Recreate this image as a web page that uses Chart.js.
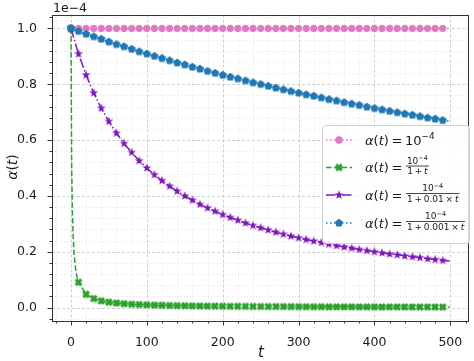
<!DOCTYPE html>
<html>
<head>
<meta charset="utf-8">
<script src="https://cdn.jsdelivr.net/npm/chart.js@4.4.0/dist/chart.umd.min.js"></script>
<style>
html, body { margin: 0; padding: 0; background: #fff; }
canvas { display: block; }
</style>
</head>
<body>
<canvas id="chart" width="474" height="361"></canvas>
<script>
// Learning rate schedules, values in units of 1e-4
const tValues = [0, 10, 20, 30, 40, 50, 60, 70, 80, 90, 100, 110, 120, 130, 140, 150, 160, 170, 180, 190,
    200, 210, 220, 230, 240, 250, 260, 270, 280, 290, 300, 310, 320, 330, 340, 350, 360, 370, 380, 390,
    400, 410, 420, 430, 440, 450, 460, 470, 480, 490, 499];

const constValues = [1, 1, 1, 1, 1, 1, 1, 1, 1, 1, 1, 1, 1, 1, 1, 1, 1, 1, 1, 1, 1, 1, 1, 1, 1,
    1, 1, 1, 1, 1, 1, 1, 1, 1, 1, 1, 1, 1, 1, 1, 1, 1, 1, 1, 1, 1, 1, 1, 1, 1, 1];

// the 1/(1+t) curve drops fast, so it keeps a few early samples
const greenT = [0, 1, 2, 3, 4, 5, 6, 7, 8, 9, 10, 20, 30, 40, 50, 60, 70, 80, 90, 100, 110, 120, 130, 140,
    150, 160, 170, 180, 190, 200, 210, 220, 230, 240, 250, 260, 270, 280, 290, 300, 310, 320, 330, 340,
    350, 360, 370, 380, 390, 400, 410, 420, 430, 440, 450, 460, 470, 480, 490, 499];
const greenValues = [1, 0.5, 0.333, 0.25, 0.2, 0.167, 0.143, 0.125, 0.111, 0.1,
    0.0909, 0.0476, 0.0323, 0.0244, 0.0196, 0.0164, 0.0141, 0.0123, 0.011, 0.0099,
    0.009, 0.0083, 0.0076, 0.0071, 0.0066, 0.0062, 0.0058, 0.0055, 0.0052, 0.005,
    0.0047, 0.0045, 0.0043, 0.0041, 0.004, 0.0038, 0.0037, 0.0036, 0.0034, 0.0033,
    0.0032, 0.0031, 0.003, 0.0029, 0.0028, 0.0028, 0.0027, 0.0026, 0.0026, 0.0025,
    0.0024, 0.0024, 0.0023, 0.0023, 0.0022, 0.0022, 0.0021, 0.0021, 0.002, 0.002];

const purpleValues = [1, 0.909, 0.833, 0.769, 0.714, 0.667, 0.625, 0.588, 0.556, 0.526,
    0.5, 0.476, 0.455, 0.435, 0.417, 0.4, 0.385, 0.370, 0.357, 0.345,
    0.333, 0.323, 0.313, 0.303, 0.294, 0.286, 0.278, 0.270, 0.263, 0.256,
    0.25, 0.244, 0.238, 0.233, 0.227, 0.222, 0.217, 0.213, 0.208, 0.204,
    0.2, 0.196, 0.192, 0.189, 0.185, 0.182, 0.179, 0.175, 0.172, 0.169, 0.167];

const blueValues = [1, 0.990, 0.980, 0.971, 0.962, 0.952, 0.943, 0.935, 0.926, 0.917,
    0.909, 0.901, 0.893, 0.885, 0.877, 0.870, 0.862, 0.855, 0.847, 0.840,
    0.833, 0.826, 0.820, 0.813, 0.806, 0.8, 0.794, 0.787, 0.781, 0.775,
    0.769, 0.763, 0.758, 0.752, 0.746, 0.741, 0.735, 0.730, 0.725, 0.719,
    0.714, 0.709, 0.704, 0.699, 0.694, 0.690, 0.685, 0.680, 0.676, 0.671, 0.667];

const xTickLabels = [0, 100, 200, 300, 400, 500];
const yTickLabels = [0.0, 0.2, 0.4, 0.6, 0.8, 1.0];

const PINK = '#e377c2', GREEN = '#2ca02c', PURPLE = '#7d16bd', BLUE = '#1f77b4';
const FONT = '"DejaVu Sans", sans-serif';
const THIN = '\u2009';

// marker sprites
function sprite(draw) {
    const c = document.createElement('canvas');
    c.width = c.height = 12;
    const g = c.getContext('2d');
    g.translate(6, 6);
    draw(g);
    return c;
}
const xMark = sprite(g => {
    g.strokeStyle = GREEN;
    g.lineWidth = 3.2;
    g.beginPath();
    g.moveTo(-2.8, -2.8); g.lineTo(2.8, 2.8);
    g.moveTo(2.8, -2.8); g.lineTo(-2.8, 2.8);
    g.stroke();
});
const starMark = sprite(g => {
    g.fillStyle = PURPLE;
    g.beginPath();
    for (let i = 0; i < 10; i++) {
        const r = i % 2 ? 1.9 : 4.7;
        const a = -Math.PI / 2 + i * Math.PI / 5;
        g.lineTo(r * Math.cos(a), r * Math.sin(a));
    }
    g.closePath();
    g.fill();
});
const pentMark = sprite(g => {
    g.fillStyle = BLUE;
    g.beginPath();
    for (let i = 0; i < 5; i++) {
        const a = -Math.PI / 2 + i * 2 * Math.PI / 5;
        g.lineTo(4.3 * Math.cos(a), 4.3 * Math.sin(a));
    }
    g.closePath();
    g.fill();
});

const pairs = (xs, ys) => xs.map((x, i) => ({ x: x, y: ys[i] }));
const markRadius = r => ctx => (ctx.raw && ctx.raw.x % 10 === 0 && ctx.raw.x < 495) ? r : 0;

const datasets = [
    { data: pairs(tValues, constValues), borderColor: PINK, backgroundColor: PINK, borderDash: [1.5, 2.5],
      pointStyle: 'circle', pointRadius: markRadius(3.2), pointBorderWidth: 1, order: 3 },
    { data: pairs(greenT, greenValues), borderColor: GREEN, backgroundColor: GREEN, borderDash: [5.5, 2.4],
      pointStyle: xMark, pointRadius: markRadius(4), order: 2 },
    { data: pairs(tValues, purpleValues), borderColor: PURPLE, backgroundColor: PURPLE, borderDash: [9.6, 2.4, 1.5, 2.4],
      pointStyle: starMark, pointRadius: markRadius(4), order: 1 },
    { data: pairs(tValues, blueValues), borderColor: BLUE, backgroundColor: BLUE, borderDash: [1.5, 2.5],
      pointStyle: pentMark, pointRadius: markRadius(4), order: 0 }
];
datasets.forEach(d => { d.showLine = true; d.borderWidth = 1.5; d.pointHoverRadius = 0; });

// draws text made of pieces, some italic, some raised
function drawRuns(ctx, x, y, runs) {
    runs.forEach(r => {
        ctx.font = (r.it ? 'italic ' : '') + r.size + 'px ' + FONT;
        ctx.fillText(r.t, x, y - (r.rise || 0));
        x += ctx.measureText(r.t).width;
    });
    return x;
}
function runsWidth(ctx, runs) {
    let w = 0;
    runs.forEach(r => {
        ctx.font = (r.it ? 'italic ' : '') + r.size + 'px ' + FONT;
        w += ctx.measureText(r.t).width;
    });
    return w;
}
const alphaRuns = s => [{ t: 'α', it: true, size: s }, { t: '(', size: s }, { t: 't', it: true, size: s },
    { t: ')', size: s }];

const gridPlugin = {
    id: 'gridFrame',
    beforeDatasetsDraw(chart) {
        const { ctx, chartArea: a, scales: { x, y } } = chart;
        ctx.save();
        ctx.beginPath();
        ctx.rect(a.left, a.top, a.right - a.left, a.bottom - a.top);
        ctx.clip();
        ctx.lineWidth = 0.8;
        // minor grid
        ctx.strokeStyle = 'rgba(200,200,200,0.6)';
        ctx.setLineDash([1, 2]);
        ctx.beginPath();
        for (let v = -20; v <= 520; v += 20) {
            if (v % 100 === 0) continue;
            const p = Math.round(x.getPixelForValue(v)) + 0.5;
            ctx.moveTo(p, a.top); ctx.lineTo(p, a.bottom);
        }
        for (let k = -1; k <= 26; k++) {
            if (k % 5 === 0) continue;
            const p = Math.round(y.getPixelForValue(k * 0.04)) + 0.5;
            ctx.moveTo(a.left, p); ctx.lineTo(a.right, p);
        }
        ctx.stroke();
        // major grid
        ctx.strokeStyle = 'rgba(176,176,176,0.75)';
        ctx.setLineDash([3, 2]);
        ctx.beginPath();
        xTickLabels.forEach(v => {
            const p = Math.round(x.getPixelForValue(v)) + 0.5;
            ctx.moveTo(p, a.top); ctx.lineTo(p, a.bottom);
        });
        yTickLabels.forEach(v => {
            const p = Math.round(y.getPixelForValue(v)) + 0.5;
            ctx.moveTo(a.left, p); ctx.lineTo(a.right, p);
        });
        ctx.stroke();
        ctx.restore();
    },
    afterDatasetsDraw(chart) {
        const { ctx, chartArea: a, scales: { x, y } } = chart;
        ctx.save();
        ctx.strokeStyle = '#333';
        ctx.lineWidth = 1;
        ctx.strokeRect(Math.round(a.left) + 0.5, Math.round(a.top) + 0.5,
            Math.round(a.right - a.left) - 1, Math.round(a.bottom - a.top) - 1);
        // tick marks
        ctx.beginPath();
        const bx = Math.round(a.bottom), ly = Math.round(a.left);
        for (let v = -20; v <= 520; v += 20) {
            const p = Math.round(x.getPixelForValue(v)) + 0.5;
            const len = v % 100 === 0 ? 4.5 : 2.5;
            ctx.moveTo(p, bx); ctx.lineTo(p, bx + len);
        }
        for (let k = -1; k <= 26; k++) {
            const p = Math.round(y.getPixelForValue(k * 0.04)) + 0.5;
            const len = k % 5 === 0 ? 4.5 : 2.5;
            ctx.moveTo(ly, p); ctx.lineTo(ly - len, p);
        }
        ctx.stroke();

        // offset text and axis titles
        ctx.fillStyle = '#1a1a1a';
        ctx.textBaseline = 'alphabetic';
        drawRuns(ctx, 53, 12, [{ t: '1e−4', size: 12.5 }]);
        drawRuns(ctx, 258, 357, [{ t: 't', it: true, size: 15 }]);
        ctx.save();
        ctx.translate(17, 167);
        ctx.rotate(-Math.PI / 2);
        const yr = alphaRuns(14);
        drawRuns(ctx, -runsWidth(ctx, yr) / 2, 0, yr);
        ctx.restore();
        ctx.restore();
    },
    afterDraw(chart) {
        const ctx = chart.ctx;
        ctx.save();
        // legend box
        ctx.fillStyle = 'rgba(255,255,255,0.8)';
        ctx.strokeStyle = 'rgba(204,204,204,0.9)';
        ctx.lineWidth = 1;
        ctx.beginPath();
        ctx.roundRect(322.5, 125.5, 147, 118, 3);
        ctx.fill();
        ctx.stroke();

        const rows = [140, 167.5, 195, 223];
        const dens = [null, '1' + THIN + '+' + THIN, '1' + THIN + '+' + THIN + '0.01' + THIN + '×' + THIN,
            '1' + THIN + '+' + THIN + '0.001' + THIN + '×' + THIN];
        rows.forEach((cy, i) => {
            const d = datasets[i];
            ctx.strokeStyle = d.borderColor;
            ctx.lineWidth = 1.5;
            ctx.setLineDash(d.borderDash);
            ctx.beginPath();
            ctx.moveTo(326, cy); ctx.lineTo(352, cy);
            ctx.stroke();
            ctx.setLineDash([]);
            if (i === 0) {
                ctx.fillStyle = PINK;
                ctx.beginPath();
                ctx.arc(339, cy, 3.7, 0, Math.PI * 2);
                ctx.fill();
            } else {
                ctx.drawImage(d.pointStyle, 339 - 6, cy - 6);
            }
            ctx.fillStyle = '#1a1a1a';
            let x = drawRuns(ctx, 365, cy + 4.5,
                alphaRuns(13).concat([{ t: THIN + '=' + THIN, size: 13 }]));
            if (i === 0) {
                drawRuns(ctx, x, cy + 4.5, [{ t: '10', size: 13 }, { t: '−4', size: 9, rise: 5.5 }]);
                return;
            }
            x += 1;
            const den = [{ t: dens[i], size: 9 }, { t: 't', it: true, size: 9 }];
            const num = [{ t: '10', size: 9 }, { t: '−4', size: 6.5, rise: 3.5 }];
            const dw = runsWidth(ctx, den), nw = runsWidth(ctx, num);
            const w = Math.max(dw, nw) + 2;
            drawRuns(ctx, x + (w - nw) / 2, cy - 4, num);
            ctx.strokeStyle = '#1a1a1a';
            ctx.lineWidth = 0.8;
            ctx.beginPath();
            ctx.moveTo(x, cy - 1.5); ctx.lineTo(x + w, cy - 1.5);
            ctx.stroke();
            drawRuns(ctx, x + (w - dw) / 2, cy + 6.5, den);
        });
        ctx.restore();
    }
};

new Chart(document.getElementById('chart'), {
    type: 'scatter',
    data: { datasets: datasets },
    options: {
        responsive: false,
        animation: false,
        layout: { padding: { top: 14, right: 3, left: 0, bottom: 0 } },
        plugins: { legend: { display: false }, tooltip: { enabled: false } },
        scales: {
            x: {
                type: 'linear', min: -24.95, max: 523.95,
                afterBuildTicks: s => { s.ticks = xTickLabels.map(v => ({ value: v })); },
                afterFit: s => { s.height = 40; },
                grid: { display: false },
                border: { display: false },
                ticks: { font: { family: FONT, size: 12.5 }, color: '#1a1a1a', padding: 6,
                    maxRotation: 0, autoSkip: false, callback: v => String(v) }
            },
            y: {
                type: 'linear', min: -0.0479, max: 1.0499,
                afterBuildTicks: s => { s.ticks = yTickLabels.map(v => ({ value: v })); },
                afterFit: s => { s.width = 52; },
                grid: { display: false },
                border: { display: false },
                ticks: { font: { family: FONT, size: 12.5 }, color: '#1a1a1a', padding: 7,
                    autoSkip: false, callback: v => v.toFixed(1) }
            }
        }
    },
    plugins: [gridPlugin]
});
</script>
</body>
</html>
